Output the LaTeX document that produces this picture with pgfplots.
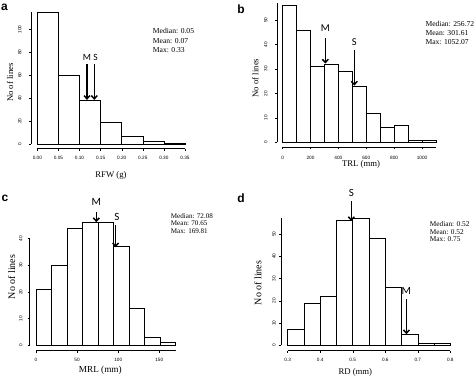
\documentclass[border=0pt]{standalone}
\usepackage{fontspec}
\setmainfont{Liberation Serif}
\setsansfont{Liberation Sans}
\newfontfamily\msfont{Carlito}
\usepackage{pgfplots}
\pgfplotsset{compat=1.18}
\usetikzlibrary{arrows.meta}
\pgfplotsset{
  rstyle/.style={
    anchor=south west,
    axis line style={draw=none},
    tick align=outside,
    xtick pos=bottom, ytick pos=left,
    major tick length=2pt,
    tick style={black, line width=0.4pt},
    ticklabel style={font=\sffamily\fontsize{4.7}{5}\selectfont},
    yticklabel style={rotate=90, anchor=south},
    clip=false,
  },
  hbar/.style={ybar interval, fill=white, draw=black, line width=0.55pt},
}
\tikzset{rarrow/.style={line width=1.5pt, -{Straight Barb[length=3.2pt,width=6pt]}}}
\begin{document}
\begin{tikzpicture}
\path[use as bounding box] (0pt,0pt) rectangle (474pt,377pt);
% ---------- panel a
\begin{axis}[rstyle, at={(31pt,228.3pt)}, x=421.9pt, y=1.1467pt,
  xmin=-0.015, xmax=0.37, ymin=-4.1, ymax=120,
  xtick={0,0.05,0.1,0.15,0.2,0.25,0.3,0.35},
  xticklabels={0.00,0.05,0.10,0.15,0.20,0.25,0.30,0.35},
  ytick={0,20,40,60,80,100}, yticklabels={0,20,40,60,80,100},
  xticklabel shift=1.5pt, yticklabel shift=4pt]
\addplot[hbar] coordinates {(0,115) (0.05,60) (0.1,38) (0.15,19) (0.2,7) (0.25,2) (0.3,1) (0.35,1)};
\draw[line width=0.4pt] (axis cs:0,-4.1) -- (axis cs:0.35,-4.1);
\draw[line width=0.4pt] (axis cs:-0.015,0) -- (axis cs:-0.015,115);
\draw[rarrow] (axis cs:0.1177,69.8) -- (axis cs:0.1177,38.5);
\draw[rarrow] (axis cs:0.135,69.8) -- (axis cs:0.135,38.5);
\node[font=\msfont\fontsize{9.5}{9.5}\selectfont] at (axis cs:0.1177,75.8) {M};
\node[font=\msfont\fontsize{9.5}{9.5}\selectfont] at (axis cs:0.138,75.8) {S};
\end{axis}
% ---------- panel b
\begin{axis}[rstyle, at={(277pt,230pt)}, x=0.13933pt, y=2.4467pt,
  xmin=-40.7, xmax=1120, ymin=-1.9, ymax=58.5,
  xtick={0,200,400,600,800,1000}, xticklabels={0,200,400,600,800,1000},
  ytick={0,10,20,30,40,50}, yticklabels={0,10,20,30,40,50},
  xticklabel shift=3.5pt, yticklabel shift=4pt]
\addplot[hbar] coordinates {(0,56) (100,46) (200,31) (300,32) (400,29) (500,23) (600,12) (700,6) (800,7) (900,1) (1000,1) (1100,1)};
\draw[line width=0.4pt] (axis cs:0,-1.9) -- (axis cs:1100,-1.9);
\draw[line width=0.4pt] (axis cs:-40.7,0) -- (axis cs:-40.7,57);
\draw[rarrow] (axis cs:306,42.5) -- (axis cs:306,32.2);
\draw[rarrow] (axis cs:514,37.7) -- (axis cs:514,23.2);
\node[font=\msfont\fontsize{10.5}{10.5}\selectfont] at (axis cs:306,46.7) {M};
\node[font=\msfont\fontsize{10.5}{10.5}\selectfont] at (axis cs:514,40.8) {S};
\end{axis}
% ---------- panel c
\begin{axis}[rstyle, at={(29.5pt,26.3pt)}, x=0.822pt, y=2.667pt,
  xmin=-7.9, xmax=175, ymin=-2.0, ymax=50,
  xtick={0,50,100,150}, xticklabels={0,50,100,150},
  ytick={0,10,20,30,40}, yticklabels={0,10,20,30,40},
  xticklabel shift=1.7pt, yticklabel shift=1.5pt]
\addplot[hbar] coordinates {(0,21) (18.868,30) (37.736,44) (56.603,46) (75.471,46) (94.339,37) (113.207,14) (132.074,3) (150.942,1) (169.81,1)};
\draw[line width=0.4pt] (axis cs:0,-2.0) -- (axis cs:169.81,-2.0);
\draw[line width=0.4pt] (axis cs:-7.9,0) -- (axis cs:-7.9,40);
\draw[rarrow] (axis cs:73.4,50) -- (axis cs:73.4,46.2);
\draw[rarrow] (axis cs:96.9,45.2) -- (axis cs:96.9,36.8);
\node[font=\msfont\fontsize{11}{11}\selectfont] at (axis cs:73.4,53.8) {M};
\node[font=\msfont\fontsize{11}{11}\selectfont] at (axis cs:98.5,48) {S};
\end{axis}
% ---------- panel d
\begin{axis}[rstyle, at={(281.3pt,26.3pt)}, x=325.3pt, y=2.227pt,
  xmin=0.2804, xmax=0.82, ymin=-2.4, ymax=60,
  xtick={0.3,0.4,0.5,0.6,0.7,0.8}, xticklabels={0.3,0.4,0.5,0.6,0.7,0.8},
  ytick={0,10,20,30,40,50}, yticklabels={0,10,20,30,40,50},
  xticklabel shift=2.2pt, yticklabel shift=0pt]
\addplot[hbar] coordinates {(0.3,7) (0.35,19) (0.4,22) (0.45,56) (0.5,57) (0.55,48) (0.6,26) (0.65,5) (0.7,1) (0.75,1) (0.8,1)};
\draw[line width=0.4pt] (axis cs:0.3,-2.4) -- (axis cs:0.8,-2.4);
\draw[line width=0.4pt] (axis cs:0.2804,0) -- (axis cs:0.2804,57);
\draw[rarrow] (axis cs:0.4957,64.7) -- (axis cs:0.4957,55.8);
\draw[rarrow] (axis cs:0.665,20.8) -- (axis cs:0.665,5);
\node[font=\msfont\fontsize{11}{11}\selectfont] at (axis cs:0.4957,68.5) {S};
\node[font=\msfont\fontsize{11}{11}\selectfont] at (axis cs:0.665,24.2) {M};
\end{axis}
% ---------- texts
\begin{scope}[every node/.style={inner sep=0pt}]
\node[font=\sffamily\bfseries\fontsize{12}{12}\selectfont] at (4.5pt,369.5pt) {a};
\node[font=\sffamily\bfseries\fontsize{12}{12}\selectfont] at (241pt,368pt) {b};
\node[font=\sffamily\bfseries\fontsize{12}{12}\selectfont] at (5pt,179pt) {c};
\node[font=\sffamily\bfseries\fontsize{12}{12}\selectfont] at (241pt,179pt) {d};
% stats
\node[anchor=north west, align=left, font=\fontsize{7.6}{9.3}\selectfont] at (152.7pt,348.7pt) {Median: 0.05\\Mean: 0.07\\Max: 0.33};
\node[anchor=north west, align=left, font=\fontsize{7.6}{9.1}\selectfont] at (425.3pt,355.7pt) {Median: 256.72\\Mean: 301.61\\Max: 1052.07};
\node[anchor=north west, align=left, font=\fontsize{7.1}{7.4}\selectfont] at (170.7pt,163.8pt) {Median: 72.08\\Mean: 70.65\\Max: 169.81};
\node[anchor=north west, align=left, font=\fontsize{7.3}{7.4}\selectfont] at (429.7pt,155.5pt) {Median: 0.52\\Mean: 0.52\\Max: 0.75};
% axis labels
\node[font=\fontsize{8.7}{8.7}\selectfont] at (111pt,202pt) {RFW (g)};
\node[font=\fontsize{8.7}{8.7}\selectfont, rotate=90] at (10pt,294.5pt) {No of lines};
\node[font=\fontsize{8.7}{8.7}\selectfont] at (361pt,213pt) {TRL (mm)};
\node[font=\fontsize{8.7}{8.7}\selectfont, rotate=90] at (255.3pt,299pt) {No of lines};
\node[font=\fontsize{9.2}{9.2}\selectfont] at (100.3pt,6.3pt) {MRL (mm)};
\node[font=\fontsize{10}{10}\selectfont, rotate=90] at (11.7pt,100pt) {No of lines};
\node[font=\fontsize{8.7}{8.7}\selectfont] at (355.3pt,4.5pt) {RD (mm)};
\node[font=\fontsize{10}{10}\selectfont, rotate=90] at (258pt,94pt) {No of lines};
\end{scope}
\end{tikzpicture}
\end{document}
